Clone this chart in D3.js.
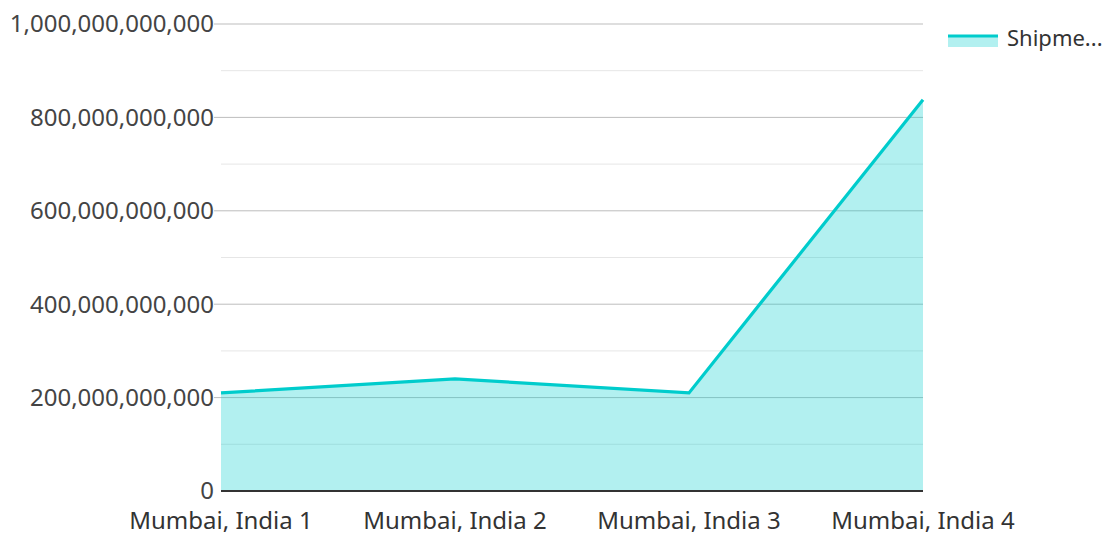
<!DOCTYPE html>
<html><head><meta charset="utf-8">
<script src="https://cdn.jsdelivr.net/npm/d3@7"></script>
<style>body{margin:0;background:#fff;font-family:"Noto Sans",sans-serif;}</style>
</head><body><svg id="c" width="1115" height="533"></svg>
<script>
const categories = ["Mumbai, India 1","Mumbai, India 2","Mumbai, India 3","Mumbai, India 4"];
const shipments = [210e9, 240e9, 210e9, 838e9];
const seriesName = "Shipme...";
const majorTicks = [0, 200e9, 400e9, 600e9, 800e9, 1000e9];
const minorTicks = [100e9, 300e9, 500e9, 700e9, 900e9];

const svg = d3.select("#c");
const L = 221, R = 923, T = 24, B = 491;
const x = d3.scalePoint().domain(categories).range([L, R]);
const y = d3.scaleLinear().domain([0, 1e12]).range([B, T]);
const color = "#00cccc";
const FS = 24;

svg.append("g").selectAll("line").data(minorTicks).join("line")
  .attr("x1", L).attr("x2", R).attr("y1", d => y(d)).attr("y2", d => y(d))
  .attr("stroke", "#e6e6e6").attr("stroke-width", 1);
svg.append("g").selectAll("line").data(majorTicks.filter(d => d > 0)).join("line")
  .attr("x1", L - 7).attr("x2", R).attr("y1", d => y(d)).attr("y2", d => y(d))
  .attr("stroke", "#bdbdbd").attr("stroke-width", 1);

const fmt = d3.format(",.0f");
svg.append("g").selectAll("text").data(majorTicks).join("text")
  .attr("x", L - 7).attr("y", d => y(d)).attr("dy", "0.35em")
  .attr("text-anchor", "end").attr("font-size", FS).attr("fill", "#444")
  .text(d => fmt(d));

const data = categories.map((c, i) => ({c, v: shipments[i]}));
svg.append("path").datum(data)
  .attr("d", d3.area().x(d => x(d.c)).y0(y(0)).y1(d => y(d.v)))
  .attr("fill", color).attr("fill-opacity", 0.3);
svg.append("path").datum(data)
  .attr("d", d3.line().x(d => x(d.c)).y(d => y(d.v)))
  .attr("fill", "none").attr("stroke", color).attr("stroke-width", 3.2);

svg.append("line").attr("x1", L).attr("x2", R).attr("y1", B).attr("y2", B)
  .attr("stroke", "#333").attr("stroke-width", 2);

svg.append("g").selectAll("text").data(categories).join("text")
  .attr("x", d => x(d)).attr("y", B + 38).attr("text-anchor", "middle")
  .attr("font-size", FS).attr("fill", "#333").text(d => d);

const lg = svg.append("g").attr("transform", "translate(948,36)");
lg.append("rect").attr("x", 0).attr("y", 0).attr("width", 50).attr("height", 11)
  .attr("fill", color).attr("fill-opacity", 0.3);
lg.append("line").attr("x1", 0).attr("x2", 50).attr("y1", 0).attr("y2", 0)
  .attr("stroke", color).attr("stroke-width", 3);
lg.append("text").attr("x", 59).attr("y", 2).attr("dy", "0.35em")
  .attr("font-size", 22).attr("fill", "#333").text(seriesName);
</script></body></html>
